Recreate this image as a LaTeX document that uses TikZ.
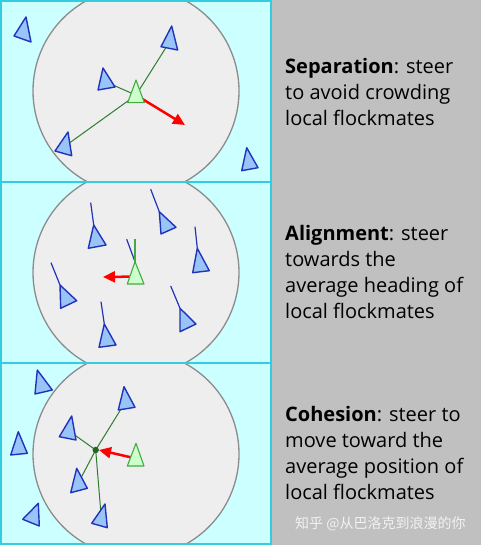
\documentclass[tikz,border=0pt]{standalone}
\usepackage{fontspec}
\setmainfont{Open Sans}
\newfontfamily\cjk{Noto Sans CJK SC}
\usetikzlibrary{arrows.meta}
\definecolor{panelbg}{HTML}{CCFFFF}
\definecolor{panelline}{HTML}{33CCE0}
\definecolor{circfill}{HTML}{EEEEEE}
\definecolor{circline}{HTML}{8C8C8C}
\definecolor{boidfill}{HTML}{99C4F8}
\definecolor{boidline}{HTML}{2233BB}
\definecolor{mefill}{HTML}{CCFFCC}
\definecolor{meline}{HTML}{44AA44}
\definecolor{linkgreen}{HTML}{2E7D2E}
\definecolor{sidebg}{HTML}{C0C0C0}
\definecolor{wmark}{HTML}{F2F2F2}
\newcommand\defboid[4]{%
  \coordinate (#1-a) at (#2);
  \coordinate (#1-b) at (#3);
  \coordinate (#1-c) at (#4);
  \coordinate (#1) at (barycentric cs:#1-a=1,#1-b=1,#1-c=1);}
\newcommand\drawboid[2]{\filldraw[#2] (#1-a) -- (#1-b) -- (#1-c) -- cycle;}
\tikzset{
  boid/.style={draw=boidline, fill=boidfill, line width=1.4pt, line join=round},
  me/.style={draw=meline, fill=mefill, line width=1.1pt, line join=round},
  link/.style={draw=linkgreen, line width=1pt},
  heading/.style={draw=boidline, line width=1.2pt},
  meheading/.style={draw=meline, line width=1.2pt},
  steer/.style={draw=red, line width=2.5pt, -{Triangle[length=12pt,width=11pt]}},
  desc/.style={anchor=base west, inner sep=0pt, font=\fontsize{20}{26}\selectfont},
  wm/.style={anchor=base west, inner sep=0pt, text=wmark, font=\cjk\fontsize{14}{18}\selectfont},
}
\begin{document}
\begin{tikzpicture}[x=1pt,y=-1pt]
\useasboundingbox (0,0) rectangle (481,545);
\fill[sidebg] (0,0) rectangle (481,545);
% panels
\foreach \t/\b in {0/182, 182/363, 363/545} {
  \begin{scope}
    \clip (0,\t) rectangle (272,\b);
    \fill[panelbg] (0,\t) rectangle (272,\b);
    \filldraw[fill=circfill, draw=circline, line width=1.3pt] (136,{(\t+\b)/2}) circle[radius=103pt];
  \end{scope}
}
\draw[panelline, line width=2pt] (1,1) rectangle (271,544);
\draw[panelline, line width=2pt] (0,182) -- (272,182);
\draw[panelline, line width=2pt] (0,363) -- (272,363);

% ---------- Separation ----------
\defboid{s1}{26,17}{14,36}{31,42}
\defboid{s2}{171.7,26}{161,46.7}{177.7,50}
\defboid{s3}{103,68}{98,90}{115,87}
\defboid{sme}{136,80}{127.7,102.7}{144.3,102.7}
\defboid{s4}{68,132}{55,151}{71.7,155.7}
\defboid{s5}{246.7,147.7}{241.7,170.7}{258,167.7}
\coordinate (septip) at (185,125);
\draw[link] (sme) -- (s2);
\draw[link] (sme) -- (s3);
\draw[link] (sme) -- (s4);
\draw[steer] (sme) -- (septip);
\drawboid{s1}{boid}
\drawboid{s2}{boid}
\drawboid{s3}{boid}
\drawboid{s4}{boid}
\drawboid{s5}{boid}
\drawboid{sme}{me}

% ---------- Alignment ----------
\defboid{a1}{93.7,225}{88.3,248.3}{106,245}
\defboid{a2}{159.3,211.7}{161,234}{176,227.3}
\defboid{a3}{197.3,248.3}{192.7,272.7}{209.3,270.7}
\defboid{a4}{60,285}{60.7,308.3}{76.7,300.7}
\defboid{a5}{104.3,324}{99,347.3}{116,345}
\defboid{a6}{180,308.3}{180,331.7}{196,324}
\defboid{ame}{135,261.7}{127.3,284}{144,284}
\coordinate (a1-h) at (90.7,202.7);
\coordinate (a2-h) at (150.7,189.3);
\coordinate (a3-h) at (195,226.7);
\coordinate (a4-h) at (51,262.7);
\coordinate (a5-h) at (101,301.7);
\coordinate (a6-h) at (170.7,286);
\coordinate (avg-h) at (126.7,239.3);
\coordinate (ame-h) at (135,239.3);
\coordinate (alitip) at (103,277);
\foreach \n in {a1,a2,a3,a4,a5,a6} {\draw[heading] (\n-a) -- (\n-h);}
\draw[heading] (ame-a) -- (avg-h);
\draw[meheading] (ame-a) -- (ame-h);
\draw[steer] (ame) -- (alitip);
\foreach \n in {a1,a2,a3,a4,a5,a6} {\drawboid{\n}{boid}}
\drawboid{ame}{me}

% ---------- Cohesion ----------
\defboid{c1}{37.3,370}{35,394}{52.3,390}
\defboid{c2}{124,386.7}{118.3,410}{135,407.3}
\defboid{c3}{71.7,416}{59.3,436.7}{76,440}
\defboid{c4}{18.3,431.7}{10.7,455}{27.3,453.3}
\defboid{c5}{76.7,468.3}{70.7,492.7}{87.3,488.3}
\defboid{c6}{38.3,503.3}{22.7,519.3}{39.3,526}
\defboid{c7}{105,504}{91.7,523.3}{107.3,527.7}
\defboid{cme}{136,443.3}{127.3,466}{144,466}
\coordinate (ctr) at (95.7,450);
\coordinate (cohtip) at (99,450);
\draw[link] (ctr) -- (c2);
\draw[link] (ctr) -- (c3);
\draw[link] (ctr) -- (c5);
\draw[link] (ctr) -- (c7);
\draw[steer] (cme) -- (cohtip);
\fill[linkgreen!80!black] (ctr) circle[radius=3.2pt];
\foreach \n in {c1,c2,c3,c4,c5,c6,c7} {\drawboid{\n}{boid}}
\drawboid{cme}{me}

% ---------- Text ----------
\node[desc] (sep1) at (285,73.5) {\textbf{Separation}: steer};
\node[desc] (sep2) at (285,99.5) {to avoid crowding};
\node[desc] (sep3) at (285,125.5) {local flockmates};
\node[desc] (ali1) at (285,240.5) {\textbf{Alignment}: steer};
\node[desc] (ali2) at (285,266.5) {towards the};
\node[desc] (ali3) at (285,292.5) {average heading of};
\node[desc] (ali4) at (285,318.5) {local flockmates};
\node[desc] (coh1) at (285,421.5) {\textbf{Cohesion}: steer to};
\node[desc] (coh2) at (285,447.5) {move toward the};
\node[desc] (coh3) at (285,473.5) {average position of};
\node[desc] (coh4) at (285,499.5) {local flockmates};
\node[wm] (mark) at (295,528) {知乎 @从巴洛克到浪漫的你};
\end{tikzpicture}
\end{document}
